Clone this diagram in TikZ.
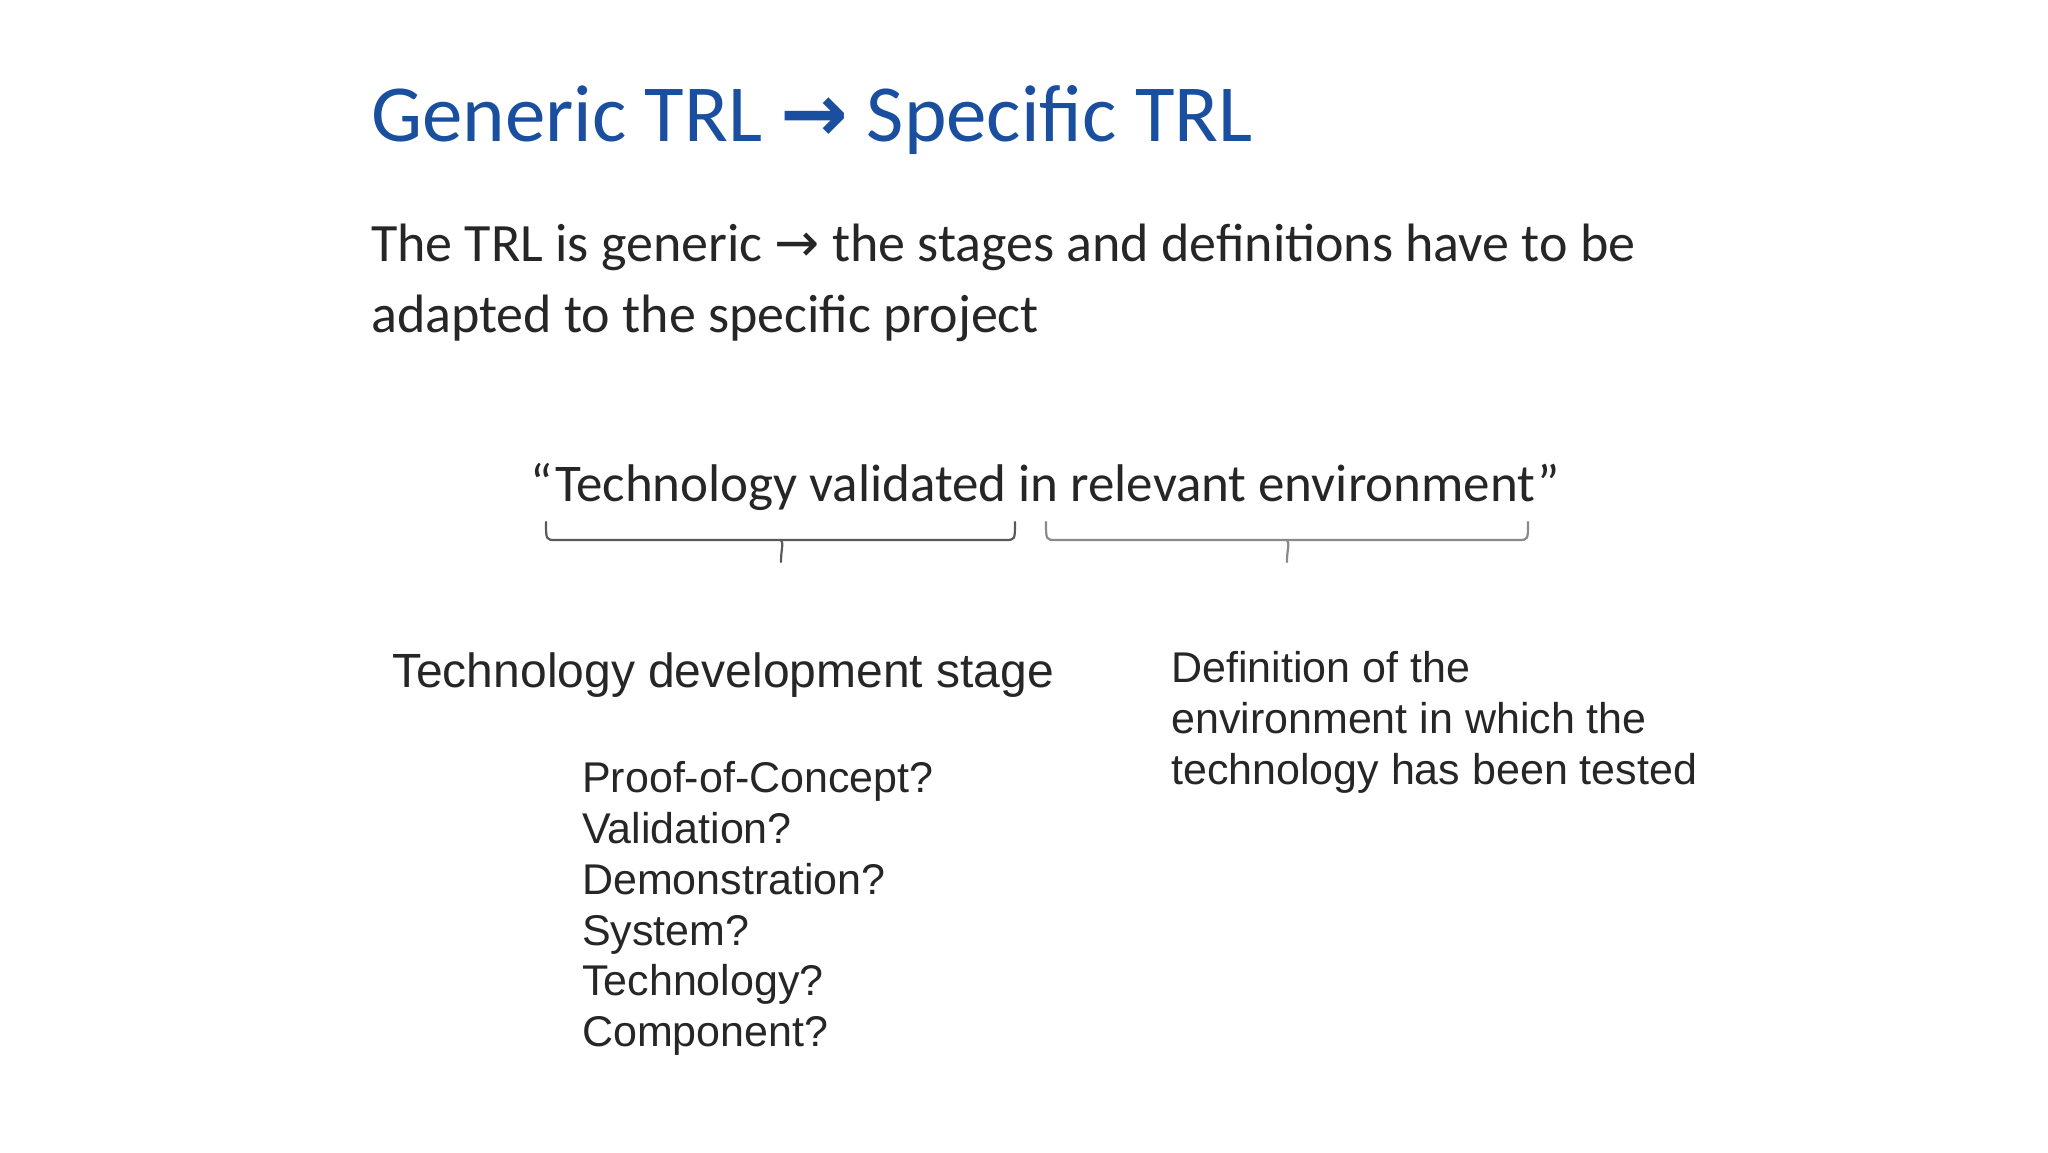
\documentclass[tikz,border=0pt]{standalone}
\usepackage{fontspec}
\setmainfont{Carlito}
\newfontfamily\arialf{Liberation Sans}
\newfontfamily\arrowf{DejaVu Sans}
\definecolor{titleblue}{HTML}{1A4FA0}
\definecolor{bodygray}{HTML}{262626}
\definecolor{braceA}{HTML}{5A5A5A}
\definecolor{braceB}{HTML}{8A8A8A}
\tikzset{
  titletext/.style={anchor=base west, inner sep=0pt, text=titleblue, font=\fontsize{81}{97}\selectfont},
  subtext/.style={anchor=base west, inner sep=0pt, text=bodygray, font=\fontsize{54}{71}\selectfont},
  quotetext/.style={anchor=base, inner sep=0pt, text=bodygray, font=\fontsize{53}{70}\selectfont},
  headtext/.style={anchor=base west, inner sep=0pt, text=bodygray, font=\arialf\fontsize{48}{56}\selectfont},
  bodytext/.style={anchor=base west, inner sep=0pt, text=bodygray, font=\arialf\fontsize{43}{51}\selectfont},
  bracestyle/.style={line width=2.2pt, line cap=round, line join=round}
}
\begin{document}
\begin{tikzpicture}[x=1pt,y=-1pt]
\useasboundingbox[fill=white] (0,0) rectangle (2048,1152);
\node[titletext] (title) at (371,141) {Generic TRL {\arrowf\bfseries →} Specific TRL};
\node[subtext] (sub1) at (371,261) {The TRL is generic {\arrowf →} the stages and definitions have to be};
\node[subtext] (sub2) at (371,332) {adapted to the specific project};
\node[quotetext] (quote) at (1045,501) {“Technology validated in relevant environment”};
% left brace
\coordinate (la) at (546,522);
\coordinate (lb) at (1015,522);
\coordinate (lt) at (781,562);
\draw[bracestyle, braceA] (la) .. controls (546,540) .. (556,540) -- (1005,540) .. controls (1015,540) .. (lb);
\draw[bracestyle, braceA] (781,540) .. controls (784,544) and (781,548) .. (lt);
% right brace
\coordinate (ra) at (1046,522);
\coordinate (rb) at (1528,522);
\coordinate (rt) at (1287,562);
\draw[bracestyle, braceB] (ra) .. controls (1046,540) .. (1056,540) -- (1518,540) .. controls (1528,540) .. (rb);
\draw[bracestyle, braceB] (1287,540) .. controls (1290,544) and (1287,548) .. (rt);
\node[headtext] (stage) at (392,687) {Technology development stage};
\node[bodytext] (env1) at (1171,682) {Definition of the};
\node[bodytext] (env2) at (1171,733) {environment in which the};
\node[bodytext] (env3) at (1171,784) {technology has been tested};
\node[bodytext] (l1) at (582,792) {Proof-of-Concept?};
\node[bodytext] (l2) at (582,843) {Validation?};
\node[bodytext] (l3) at (582,894) {Demonstration?};
\node[bodytext] (l4) at (582,945) {System?};
\node[bodytext] (l5) at (582,995) {Technology?};
\node[bodytext] (l6) at (582,1046) {Component?};
\end{tikzpicture}
\end{document}
